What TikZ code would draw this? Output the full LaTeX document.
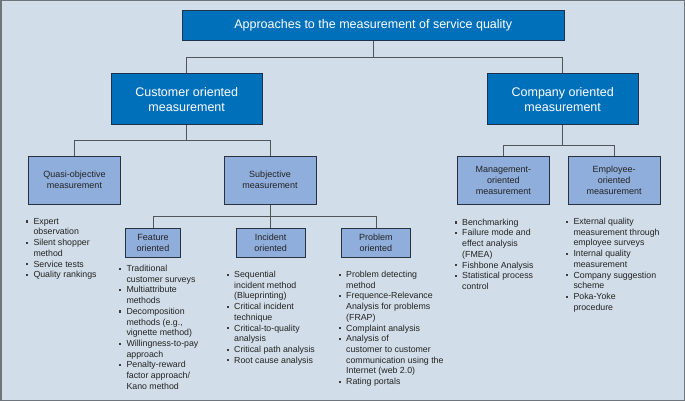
\documentclass[tikz,border=0pt]{standalone}
\usepackage{fontspec}
\setmainfont{Liberation Sans}
\definecolor{bgc}{RGB}{209,221,232}
\definecolor{framec}{RGB}{110,117,124}
\definecolor{darkbox}{RGB}{0,112,186}
\definecolor{darkedge}{RGB}{30,50,75}
\definecolor{lightbox}{RGB}{143,174,219}
\definecolor{lightedge}{RGB}{40,50,62}
\definecolor{linec}{RGB}{80,85,92}
\definecolor{txt}{RGB}{35,35,35}
\definecolor{bulc}{RGB}{60,60,60}
\newcommand\bl{\makebox[7.3pt][l]{\textcolor{bulc}{\rule[1.7pt]{2.2pt}{2.2pt}}}}
\newcommand\ind{\hspace*{7.3pt}}
\begin{document}
\begin{tikzpicture}[x=1pt,y=-1pt,
  bigbox/.style={draw=darkedge, line width=0.9pt, fill=darkbox, text=white, inner sep=0pt,
    font=\fontsize{12.5}{14.7}\selectfont, align=center},
  smallbox/.style={draw=lightedge, line width=0.9pt, fill=lightbox, text=txt, inner sep=0pt,
    font=\fontsize{9}{11}\selectfont, align=center},
  blist/.style={anchor=north west, inner sep=0pt, align=left, text=txt,
    font=\fontsize{8.8}{10.7}\selectfont},
  conn/.style={draw=linec, line width=0.8pt}]
\useasboundingbox (0,0) rectangle (685,401);
\fill[bgc] (0,0) rectangle (685,401);
\draw[framec, line width=1.5pt] (0.75,0.75) rectangle (684.25,400.25);

% boxes
\node[bigbox, minimum width=382.7pt, minimum height=30pt] (top) at (373.3,25.7) {Approaches to the measurement of service quality};
\node[bigbox, minimum width=150.7pt, minimum height=50.7pt] (cust) at (186.7,99.3) {Customer oriented\\measurement};
\node[bigbox, minimum width=151.3pt, minimum height=50.7pt] (comp) at (562.7,99.3) {Company oriented\\measurement};

\node[smallbox, minimum width=92.4pt, minimum height=48.3pt] (quasi) at (74.5,180.2) {Quasi-objective\\measurement};
\node[smallbox, minimum width=92pt, minimum height=48.3pt] (subj) at (270,180.2) {Subjective\\measurement};
\node[smallbox, minimum width=92pt, minimum height=48.3pt] (mgmt) at (503.3,180.2) {Management-\\oriented\\measurement};
\node[smallbox, minimum width=91.7pt, minimum height=48.3pt] (empl) at (614.2,180.2) {Employee-\\oriented\\measurement};

\node[smallbox, minimum width=55.4pt, minimum height=29pt] (feat) at (153,242.6) {Feature\\oriented};
\node[smallbox, minimum width=69.3pt, minimum height=29pt] (inc) at (270.7,242.6) {Incident\\oriented};
\node[smallbox, minimum width=69.7pt, minimum height=29pt] (prob) at (375.9,242.6) {Problem\\oriented};

% connectors
\coordinate (b0) at (373.3,57.3);
\coordinate (b1) at (186.7,140.7);
\coordinate (b2) at (562.7,145.7);
\coordinate (b3) at (270,216);
\draw[conn] (top.south) -- (b0) -| (cust.north);
\draw[conn] (b0) -| (comp.north);
\draw[conn] (cust.south) -- (b1) -| (quasi.north);
\draw[conn] (b1) -| (subj.north);
\draw[conn] (comp.south) -- (b2) -| (mgmt.north);
\draw[conn] (b2) -| (empl.north);
\draw[conn] (subj.south) -- (b3) -| (feat.north);
\draw[conn] (b3) -| (prob.north);
\draw[conn] (b3) -- (b3 |- inc.north);

% lists
\node[blist] (lquasi) at (26,218) {\bl Expert\\\ind observation\\\bl Silent shopper\\\ind method\\\bl Service tests\\\bl Quality rankings};
\node[blist] (lfeat) at (119,265) {\bl Traditional\\\ind customer surveys\\\bl Multiattribute\\\ind methods\\\bl Decomposition\\\ind methods (e.g.,\\\ind vignette method)\\\bl Willingness-to-pay\\\ind approach\\\bl Penalty-reward\\\ind factor approach/\\\ind Kano method};
\node[blist] (linc) at (226.7,271) {\bl Sequential\\\ind incident method\\\ind (Blueprinting)\\\bl Critical incident\\\ind technique\\\bl Critical-to-quality\\\ind analysis\\\bl Critical path analysis\\\bl Root cause analysis};
\node[blist] (lprob) at (338.7,271) {\bl Problem detecting\\\ind method\\\bl Frequence-Relevance\\\ind Analysis for problems\\\ind (FRAP)\\\bl Complaint analysis\\\bl Analysis of\\\ind customer to customer\\\ind communication using the\\\ind Internet (web 2.0)\\\bl Rating portals};
\node[blist] (lmgmt) at (454.7,218.7) {\bl Benchmarking\\\bl Failure mode and\\\ind effect analysis\\\ind (FMEA)\\\bl Fishbone Analysis\\\bl Statistical process\\\ind control};
\node[blist] (lempl) at (566,218) {\bl External quality\\\ind measurement through\\\ind employee surveys\\\bl Internal quality\\\ind measurement\\\bl Company suggestion\\\ind scheme\\\bl Poka-Yoke\\\ind procedure};
\end{tikzpicture}
\end{document}
